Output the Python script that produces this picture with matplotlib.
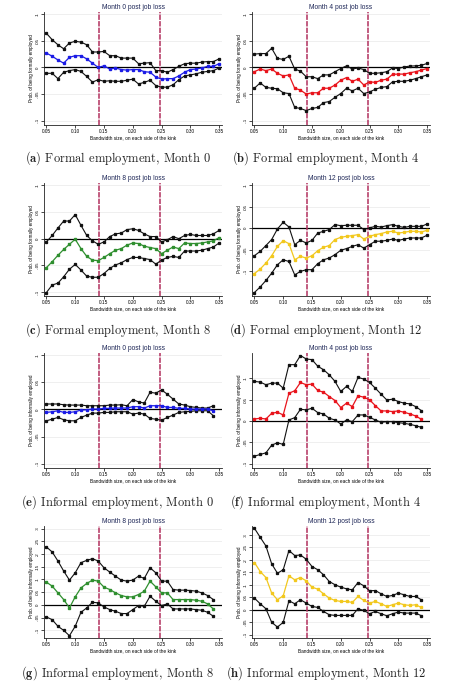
import matplotlib
matplotlib.use('Agg')
import matplotlib.pyplot as plt

plt.rcParams['mathtext.fontset'] = 'cm'

# ---------------- data ----------------
bw_formal = [0.05, 0.06, 0.07, 0.08, 0.09, 0.10, 0.11, 0.12, 0.13, 0.14, 0.15,
             0.16, 0.17, 0.18, 0.19, 0.20, 0.21, 0.22, 0.23, 0.24, 0.25, 0.26,
             0.27, 0.28, 0.29, 0.30, 0.31, 0.32, 0.33, 0.34, 0.35]
bw_informal = bw_formal[:30]

kinks = [0.1415, 0.247]

# (a) formal, month 0
f0_hi = [0.064, 0.052, 0.0425, 0.035, 0.046, 0.049, 0.0475, 0.0425, 0.029, 0.029, 0.030,
         0.022, 0.022, 0.0175, 0.0175, 0.0175, 0.007, 0.008, 0.009, -0.006, -0.006, -0.009,
         -0.004, 0.002, 0.007, 0.008, 0.008, 0.010, 0.011, 0.011, 0.016]
f0_est = [0.027, 0.021, 0.014, 0.008, 0.019, 0.022, 0.022, 0.016, 0.008, 0.0, 0.003,
          -0.003, -0.001, -0.004, -0.005, -0.004, -0.004, -0.008, -0.009, -0.018, -0.022, -0.021,
          -0.021, -0.016, -0.009, -0.004, -0.003, -0.001, 0.002, 0.002, 0.007]
f0_lo = [-0.011, -0.011, -0.021, -0.009, -0.006, -0.004, -0.0075, -0.017, -0.0275, -0.023, -0.026,
         -0.025, -0.026, -0.026, -0.024, -0.022, -0.031, -0.028, -0.024, -0.034, -0.037, -0.037,
         -0.0325, -0.023, -0.016, -0.014, -0.012, -0.009, -0.0075, -0.006, -0.001]

# (b) formal, month 4
f4_hi = [0.025, 0.026, 0.026, 0.036, 0.017, 0.015, 0.021, -0.003, -0.007, -0.0175, -0.0175,
         -0.021, -0.014, -0.014, -0.008, -0.002, 0.003, -0.003, -0.001, -0.004, -0.011, -0.011,
         -0.010, -0.008, -0.001, -0.002, 0.001, 0.0025, 0.003, 0.004, 0.0075]
f4_est = [-0.008, -0.003, -0.006, -0.003, -0.011, -0.016, -0.014, -0.039, -0.0425, -0.050, -0.0475,
          -0.0475, -0.039, -0.039, -0.033, -0.024, -0.019, -0.026, -0.022, -0.033, -0.027, -0.028,
          -0.024, -0.022, -0.013, -0.0125, -0.0125, -0.010, -0.008, -0.005, -0.002]
f4_lo = [-0.039, -0.029, -0.0375, -0.039, -0.040, -0.0475, -0.049, -0.075, -0.077, -0.081, -0.077,
         -0.075, -0.066, -0.064, -0.056, -0.049, -0.039, -0.044, -0.039, -0.049, -0.046, -0.041,
         -0.0375, -0.036, -0.027, -0.026, -0.026, -0.024, -0.021, -0.0175, -0.014]

# (c) formal, month 8
f8_hi = [-0.006, 0.006, 0.020, 0.033, 0.033, 0.045, 0.025, 0.006, -0.004, -0.0105, -0.006,
         0.004, 0.009, 0.0105, 0.017, 0.0185, 0.0155, 0.009, 0.004, 0.004, -0.006, -0.002,
         0.004, 0.0, 0.006, 0.008, 0.006, 0.006, 0.006, 0.009, 0.0155]
f8_est = [-0.054, -0.043, -0.031, -0.020, -0.0105, -0.001, -0.0185, -0.033, -0.040, -0.041, -0.035,
          -0.028, -0.0215, -0.0185, -0.012, -0.008, -0.009, -0.014, -0.0165, -0.0185, -0.028, -0.0215,
          -0.0155, -0.0185, -0.008, -0.009, -0.009, -0.008, -0.006, -0.004, 0.002]
f8_lo = [-0.1005, -0.0865, -0.083, -0.071, -0.057, -0.048, -0.0585, -0.070, -0.072, -0.072, -0.065,
         -0.0555, -0.049, -0.045, -0.039, -0.035, -0.035, -0.037, -0.039, -0.0475, -0.040, -0.035,
         -0.033, -0.035, -0.023, -0.023, -0.023, -0.0215, -0.0185, -0.0155, -0.008]

# (d) formal, month 12
f12_hi = [-0.0636, -0.0535, -0.040, -0.026, -0.0015, 0.014, 0.003, -0.038, -0.028, -0.034, -0.028,
          -0.011, -0.007, -0.003, 0.0085, 0.006, 0.007, 0.007, 0.007, -0.003, 0.001, 0.0045,
          0.003, 0.006, 0.0085, 0.0045, 0.002, 0.0045, 0.0045, 0.0045, 0.010]
f12_est = [-0.105, -0.0945, -0.0806, -0.0636, -0.042, -0.0287, -0.0357, -0.073, -0.065, -0.069, -0.0636,
           -0.052, -0.044, -0.040, -0.026, -0.021, -0.0186, -0.017, -0.0147, -0.025, -0.0186, -0.0147,
           -0.0124, -0.0085, -0.007, -0.011, -0.0093, -0.007, -0.007, -0.0085, -0.0047]
f12_lo = [-0.149, -0.136, -0.121, -0.104, -0.0845, -0.073, -0.077, -0.108, -0.100, -0.096, -0.096,
          -0.082, -0.073, -0.069, -0.061, -0.051, -0.047, -0.042, -0.038, -0.046, -0.038, -0.030,
          -0.030, -0.028, -0.025, -0.028, -0.025, -0.0225, -0.0225, -0.0225, -0.016]

# (e) informal, month 0
i0_hi = [0.010, 0.010, 0.010, 0.0086, 0.008, 0.008, 0.008, 0.0068, 0.0068, 0.0068, 0.0068,
         0.008, 0.008, 0.0086, 0.0068, 0.018, 0.014, 0.0117, 0.0315, 0.030, 0.036, 0.028,
         0.019, 0.010, 0.008, 0.005, 0.0037, 0.0025, 0.0025, 0.0068]
i0_est = [-0.0055, -0.0043, -0.0025, -0.0055, -0.0055, -0.0043, -0.0012, -0.0006, 0.0006, 0.0006, 0.0019,
          0.0019, 0.0025, 0.0025, 0.0025, 0.005, 0.005, 0.0025, 0.0068, 0.0068, 0.0068, 0.0037,
          0.0037, 0.0019, 0.0019, 0.0006, 0.0006, 0.0006, 0.0006, -0.0025]
i0_lo = [-0.021, -0.018, -0.0148, -0.019, -0.021, -0.021, -0.0148, -0.0105, -0.0068, -0.0068, -0.0055,
         -0.0055, -0.0043, -0.0043, -0.0043, -0.0086, -0.0068, -0.0086, -0.0167, -0.018, -0.020, -0.0148,
         -0.0105, -0.0055, -0.0043, -0.0037, -0.0025, -0.0025, -0.0025, -0.0117]

# (f) informal, month 4
i4_hi = [0.0925, 0.091, 0.0847, 0.0886, 0.0886, 0.0768, 0.1317, 0.1317, 0.153, 0.145, 0.1435,
         0.128, 0.120, 0.108, 0.0925, 0.069, 0.081, 0.069, 0.102, 0.098, 0.090, 0.0768,
         0.0627, 0.049, 0.051, 0.0455, 0.0416, 0.040, 0.0337, 0.0243]
i4_est = [0.0047, 0.0063, 0.0047, 0.018, 0.0204, 0.0141, 0.065, 0.0706, 0.090, 0.0847, 0.0862,
          0.0713, 0.0674, 0.0572, 0.0478, 0.0314, 0.0416, 0.0337, 0.0588, 0.0557, 0.0494, 0.036,
          0.0235, 0.0235, 0.022, 0.0235, 0.0204, 0.0165, 0.0118, 0.0039]
i4_lo = [-0.0823, -0.0784, -0.0745, -0.0565, -0.051, -0.0549, 0.0024, 0.0078, 0.0274, 0.0259, 0.0298,
         0.0196, 0.0165, 0.0063, 0.0024, -0.0071, 0.0024, -0.0016, 0.0141, 0.0141, 0.0086, 0.0024,
         -0.0031, -0.0016, -0.0016, -0.0039, -0.0055, -0.0078, -0.0110, -0.0149]

# (g) informal, month 8
i8_hi = [0.2277, 0.208, 0.1724, 0.133, 0.0974, 0.126, 0.166, 0.175, 0.1816, 0.1724, 0.146,
         0.129, 0.113, 0.0974, 0.0934, 0.0974, 0.113, 0.104, 0.146, 0.126, 0.0934, 0.0934,
         0.0605, 0.058, 0.058, 0.0566, 0.054, 0.0474, 0.0368, 0.021]
i8_est = [0.0895, 0.0737, 0.0474, 0.021, -0.0118, 0.0316, 0.067, 0.0842, 0.0974, 0.0934, 0.0697,
          0.0605, 0.0474, 0.0368, 0.0316, 0.0316, 0.0408, 0.054, 0.0934, 0.071, 0.0474, 0.0474,
          0.021, 0.021, 0.021, 0.021, 0.0184, 0.0145, 0.004, -0.0158]
i8_lo = [-0.0474, -0.058, -0.084, -0.100, -0.121, -0.084, -0.029, -0.0118, 0.0105, 0.0079, -0.0079,
         -0.0184, -0.025, -0.034, -0.034, -0.0184, -0.0026, -0.0053, 0.034, 0.0145, -0.0026, 0.004,
         -0.0158, -0.0158, -0.0158, -0.0158, -0.0184, -0.021, -0.029, -0.0447]

# (h) informal, month 12
i12_hi = [0.326, 0.290, 0.255, 0.1835, 0.146, 0.160, 0.237, 0.217, 0.219, 0.202, 0.173,
          0.160, 0.140, 0.113, 0.100, 0.0904, 0.0838, 0.0798, 0.109, 0.0958, 0.0758, 0.077,
          0.0638, 0.0532, 0.0572, 0.0665, 0.060, 0.0532, 0.0532, 0.040]
i12_est = [0.189, 0.153, 0.129, 0.0665, 0.040, 0.0559, 0.1357, 0.1197, 0.129, 0.1157, 0.0904,
           0.0825, 0.0638, 0.0466, 0.0372, 0.0333, 0.0333, 0.0293, 0.0532, 0.0372, 0.0266, 0.0333,
           0.024, 0.0133, 0.020, 0.0266, 0.020, 0.0173, 0.020, 0.0093]
i12_lo = [0.0466, 0.024, 0.004, -0.0505, -0.069, -0.0505, 0.036, 0.024, 0.040, 0.0266, 0.0133,
          0.0093, -0.0067, -0.020, -0.0226, -0.0226, -0.0226, -0.0226, 0.004, -0.0027, -0.016, -0.0067,
          -0.016, -0.024, -0.016, -0.0093, -0.0133, -0.0133, -0.0133, -0.024]

months = [0, 4, 8, 12]
est_colors = ['#1c1ce6', '#e8141c', '#2f8f2f', '#f2c81e']
captions = ["(a)", "(b)", "(c)", "(d)", "(e)", "(f)", "(g)", "(h)"]
caption_texts = ["Formal employment, Month 0", "Formal employment, Month 4",
                 "Formal employment, Month 8", "Formal employment, Month 12",
                 "Informal employment, Month 0", "Informal employment, Month 4",
                 "Informal employment, Month 8", "Informal employment, Month 12"]

ticks_small = [-0.1, -0.05, 0, 0.05, 0.1]
ticks_large = [-0.1, -0.05, 0, 0.05, 0.1, 0.15, 0.2, 0.25, 0.3]
xticks = [0.05, 0.10, 0.15, 0.20, 0.25, 0.30, 0.35]

# ---------------- layout (pixels) ----------------
W, H = 474, 690
fig = plt.figure(figsize=(W / 100, H / 100), dpi=100)

col_x = [44, 252]
ax_w = 178
row_top = [12, 183, 353, 526]
row_h = [113, 113, 115, 112]
cap_x = [118, 326]
cap_y = [158, 330, 502, 673]

panels = [
    (bw_formal, f0_lo, f0_est, f0_hi, (-0.108, 0.104), ticks_small, "formally"),
    (bw_formal, f4_lo, f4_est, f4_hi, (-0.108, 0.104), ticks_small, "formally"),
    (bw_formal, f8_lo, f8_est, f8_hi, (-0.107, 0.104), ticks_small, "formally"),
    (bw_formal, f12_lo, f12_est, f12_hi, (-0.157, 0.105), ticks_small, "formally"),
    (bw_informal, i0_lo, i0_est, i0_hi, (-0.108, 0.104), ticks_small, "informally"),
    (bw_informal, i4_lo, i4_est, i4_hi, (-0.11, 0.159), ticks_small, "informally"),
    (bw_informal, i8_lo, i8_est, i8_hi, (-0.13, 0.31), ticks_large, "informally"),
    (bw_informal, i12_lo, i12_est, i12_hi, (-0.113, 0.335), ticks_large, "informally"),
]


def stata_fmt(v):
    if abs(v) < 1e-9:
        return "0"
    s = f"{v:.2f}".rstrip('0').rstrip('.')
    return s.replace("0.", ".")


for k, (x, lo, est, hi, ylim, yt, kind) in enumerate(panels):
    r, c = divmod(k, 2)
    left = col_x[c] / W
    bottom = 1 - (row_top[r] + row_h[r]) / H
    ax = fig.add_axes([left, bottom, ax_w / W, row_h[r] / H])
    ax.set_xlim(0.0458, 0.355)
    ax.set_ylim(*ylim)
    for t in yt:
        ax.axhline(t, color='#ececec', lw=0.6, zorder=0)
    ax.axhline(0, color='black', lw=0.9, zorder=2)
    for kx in kinks:
        ax.axvline(kx, color='#b2305e', lw=1.1, ls=(0, (3.5, 0.8)), zorder=3)
    col = est_colors[k % 4]
    ax.plot(x, hi, color='#111111', lw=0.8, marker='s', ms=1.4, zorder=4)
    ax.plot(x, lo, color='#111111', lw=0.8, marker='s', ms=1.4, zorder=4)
    ax.plot(x, est, color=col, lw=0.9, marker='s', ms=1.9, zorder=5)

    ax.set_yticks(yt)
    ax.set_yticklabels([stata_fmt(t) for t in yt], rotation=90, va='center',
                       fontsize=3.2, family='Liberation Sans')
    ax.set_xticks(xticks)
    ax.set_xticklabels([f"{t:.2f}" for t in xticks], fontsize=3.4, family='Liberation Sans')
    ax.tick_params(axis='both', length=2, width=0.5, pad=1)
    for s in ['top', 'right']:
        ax.spines[s].set_visible(False)
    for s in ['left', 'bottom']:
        ax.spines[s].set_linewidth(0.6)
        ax.spines[s].set_color('#222222')
    ax.set_xlabel("Bandwidth size, on each side of the kink", fontsize=3.4,
                  family='Liberation Sans', labelpad=1)
    ax.set_ylabel(f"Prob. of being {kind} employed", fontsize=3.3,
                  family='Liberation Sans', labelpad=1.5)
    ax.set_title(f"Month {months[k % 4]} post job loss", fontsize=4.8,
                 family='Liberation Sans', color='#1c2556', pad=2.5)

    fig.text(cap_x[c] / W, 1 - cap_y[r] / H,
             r"$\mathbf{" + captions[k] + r"}$ " + caption_texts[k],
             ha='center', va='center', fontsize=9, family='cmr10', color='#222222')

fig.savefig('out.png', dpi=100, facecolor='white')
